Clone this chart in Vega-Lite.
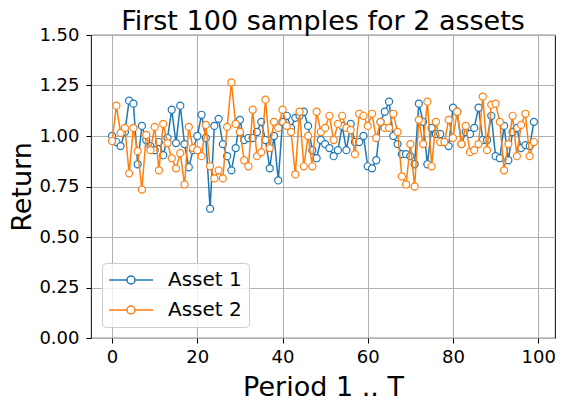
{
  "$schema": "https://vega.github.io/schema/vega-lite/v6.json",
  "width": 464,
  "height": 303,
  "autosize": {"type": "none"},
  "padding": {"left": 91, "top": 35, "right": 7, "bottom": 65},
  "background": "white",
  "title": {
    "text": "First 100 samples for 2 assets",
    "font": "DejaVu Sans",
    "fontSize": 27,
    "fontWeight": "normal",
    "color": "black",
    "offset": -10
  },
  "data": {
    "values": [
      {"t": 0, "Asset 1": 1.00, "Asset 2": 0.975},
      {"t": 1, "Asset 1": 0.97, "Asset 2": 1.15},
      {"t": 2, "Asset 1": 0.95, "Asset 2": 1.015},
      {"t": 3, "Asset 1": 1.02, "Asset 2": 1.04},
      {"t": 4, "Asset 1": 1.175, "Asset 2": 0.815},
      {"t": 5, "Asset 1": 1.16, "Asset 2": 1.04},
      {"t": 6, "Asset 1": 0.86, "Asset 2": 0.925},
      {"t": 7, "Asset 1": 1.05, "Asset 2": 0.735},
      {"t": 8, "Asset 1": 0.98, "Asset 2": 1.005},
      {"t": 9, "Asset 1": 0.95, "Asset 2": 0.93},
      {"t": 10, "Asset 1": 0.93, "Asset 2": 1.045},
      {"t": 11, "Asset 1": 0.97, "Asset 2": 0.83},
      {"t": 12, "Asset 1": 0.905, "Asset 2": 1.06},
      {"t": 13, "Asset 1": 0.99, "Asset 2": 0.965},
      {"t": 14, "Asset 1": 1.13, "Asset 2": 0.89},
      {"t": 15, "Asset 1": 0.965, "Asset 2": 0.84},
      {"t": 16, "Asset 1": 1.15, "Asset 2": 0.915},
      {"t": 17, "Asset 1": 0.96, "Asset 2": 0.76},
      {"t": 18, "Asset 1": 0.845, "Asset 2": 1.045},
      {"t": 19, "Asset 1": 0.93, "Asset 2": 0.94},
      {"t": 20, "Asset 1": 1.00, "Asset 2": 0.93},
      {"t": 21, "Asset 1": 1.105, "Asset 2": 0.9},
      {"t": 22, "Asset 1": 0.99, "Asset 2": 1.055},
      {"t": 23, "Asset 1": 0.64, "Asset 2": 0.85},
      {"t": 24, "Asset 1": 1.05, "Asset 2": 0.79},
      {"t": 25, "Asset 1": 1.085, "Asset 2": 0.83},
      {"t": 26, "Asset 1": 0.96, "Asset 2": 0.79},
      {"t": 27, "Asset 1": 0.90, "Asset 2": 1.045},
      {"t": 28, "Asset 1": 0.83, "Asset 2": 1.265},
      {"t": 29, "Asset 1": 0.94, "Asset 2": 1.06},
      {"t": 30, "Asset 1": 1.08, "Asset 2": 1.02},
      {"t": 31, "Asset 1": 0.98, "Asset 2": 0.88},
      {"t": 32, "Asset 1": 0.99, "Asset 2": 0.85},
      {"t": 33, "Asset 1": 0.99, "Asset 2": 1.13},
      {"t": 34, "Asset 1": 1.02, "Asset 2": 0.90},
      {"t": 35, "Asset 1": 1.07, "Asset 2": 0.92},
      {"t": 36, "Asset 1": 0.98, "Asset 2": 1.18},
      {"t": 37, "Asset 1": 0.84, "Asset 2": 0.94},
      {"t": 38, "Asset 1": 1.00, "Asset 2": 1.07},
      {"t": 39, "Asset 1": 0.78, "Asset 2": 1.04},
      {"t": 40, "Asset 1": 1.07, "Asset 2": 1.13},
      {"t": 41, "Asset 1": 1.10, "Asset 2": 1.05},
      {"t": 42, "Asset 1": 1.04, "Asset 2": 1.02},
      {"t": 43, "Asset 1": 1.09, "Asset 2": 0.81},
      {"t": 44, "Asset 1": 1.10, "Asset 2": 1.12},
      {"t": 45, "Asset 1": 1.12, "Asset 2": 0.85},
      {"t": 46, "Asset 1": 1.05, "Asset 2": 1.00},
      {"t": 47, "Asset 1": 0.93, "Asset 2": 0.85},
      {"t": 48, "Asset 1": 0.89, "Asset 2": 1.12},
      {"t": 49, "Asset 1": 0.98, "Asset 2": 1.02},
      {"t": 50, "Asset 1": 0.96, "Asset 2": 1.04},
      {"t": 51, "Asset 1": 0.94, "Asset 2": 1.10},
      {"t": 52, "Asset 1": 0.90, "Asset 2": 0.98},
      {"t": 53, "Asset 1": 0.93, "Asset 2": 1.06},
      {"t": 54, "Asset 1": 1.05, "Asset 2": 1.10},
      {"t": 55, "Asset 1": 0.93, "Asset 2": 1.04},
      {"t": 56, "Asset 1": 1.06, "Asset 2": 1.03},
      {"t": 57, "Asset 1": 0.97, "Asset 2": 0.91},
      {"t": 58, "Asset 1": 0.97, "Asset 2": 1.11},
      {"t": 59, "Asset 1": 1.00, "Asset 2": 1.10},
      {"t": 60, "Asset 1": 0.85, "Asset 2": 1.05},
      {"t": 61, "Asset 1": 0.84, "Asset 2": 1.11},
      {"t": 62, "Asset 1": 0.88, "Asset 2": 0.99},
      {"t": 63, "Asset 1": 1.07, "Asset 2": 1.07},
      {"t": 64, "Asset 1": 1.12, "Asset 2": 1.04},
      {"t": 65, "Asset 1": 1.17, "Asset 2": 1.04},
      {"t": 66, "Asset 1": 1.00, "Asset 2": 1.11},
      {"t": 67, "Asset 1": 0.96, "Asset 2": 1.02},
      {"t": 68, "Asset 1": 0.91, "Asset 2": 0.80},
      {"t": 69, "Asset 1": 0.91, "Asset 2": 0.76},
      {"t": 70, "Asset 1": 0.90, "Asset 2": 0.96},
      {"t": 71, "Asset 1": 0.86, "Asset 2": 0.75},
      {"t": 72, "Asset 1": 1.16, "Asset 2": 1.08},
      {"t": 73, "Asset 1": 1.07, "Asset 2": 0.96},
      {"t": 74, "Asset 1": 0.86, "Asset 2": 1.17},
      {"t": 75, "Asset 1": 1.04, "Asset 2": 0.85},
      {"t": 76, "Asset 1": 1.01, "Asset 2": 1.07},
      {"t": 77, "Asset 1": 1.01, "Asset 2": 0.97},
      {"t": 78, "Asset 1": 0.97, "Asset 2": 0.97},
      {"t": 79, "Asset 1": 0.95, "Asset 2": 1.08},
      {"t": 80, "Asset 1": 1.14, "Asset 2": 0.99},
      {"t": 81, "Asset 1": 1.12, "Asset 2": 1.12},
      {"t": 82, "Asset 1": 0.96, "Asset 2": 0.96},
      {"t": 83, "Asset 1": 1.02, "Asset 2": 1.05},
      {"t": 84, "Asset 1": 1.01, "Asset 2": 0.92},
      {"t": 85, "Asset 1": 1.04, "Asset 2": 0.93},
      {"t": 86, "Asset 1": 1.14, "Asset 2": 0.96},
      {"t": 87, "Asset 1": 0.98, "Asset 2": 1.195},
      {"t": 88, "Asset 1": 0.98, "Asset 2": 0.93},
      {"t": 89, "Asset 1": 1.10, "Asset 2": 1.155},
      {"t": 90, "Asset 1": 0.90, "Asset 2": 1.16},
      {"t": 91, "Asset 1": 0.89, "Asset 2": 1.07},
      {"t": 92, "Asset 1": 1.05, "Asset 2": 0.83},
      {"t": 93, "Asset 1": 0.88, "Asset 2": 0.96},
      {"t": 94, "Asset 1": 1.02, "Asset 2": 1.10},
      {"t": 95, "Asset 1": 1.04, "Asset 2": 0.90},
      {"t": 96, "Asset 1": 0.94, "Asset 2": 1.055},
      {"t": 97, "Asset 1": 0.955, "Asset 2": 1.11},
      {"t": 98, "Asset 1": 0.95, "Asset 2": 0.90},
      {"t": 99, "Asset 1": 1.07, "Asset 2": 0.97}
    ]
  },
  "transform": [
    {"fold": ["Asset 1", "Asset 2"], "as": ["asset", "ret"]}
  ],
  "encoding": {
    "x": {
      "field": "t",
      "type": "quantitative",
      "scale": {"domain": [-4.95, 103.95], "nice": false, "zero": false},
      "axis": {"values": [0, 20, 40, 60, 80, 100], "title": "Period 1 .. T", "titlePadding": 8, "labelPadding": 5}
    },
    "y": {
      "field": "ret",
      "type": "quantitative",
      "scale": {"domain": [0, 1.5], "nice": false},
      "axis": {
        "values": [0, 0.25, 0.5, 0.75, 1, 1.25, 1.5],
        "format": ".2f",
        "title": "Return",
        "titlePadding": 2,
        "labelPadding": 7
      }
    },
    "color": {
      "field": "asset",
      "type": "nominal",
      "scale": {"domain": ["Asset 1", "Asset 2"], "range": ["#1f77b4", "#ff7f0e"]},
      "legend": {
        "title": null,
        "orient": "bottom-left",
        "offset": 11,
        "padding": 7,
        "rowPadding": 10,
        "symbolType": "M-3,0L-0.545,0M0.545,0L3,0M0.545,0A0.545,0.545,0,1,1,-0.545,0A0.545,0.545,0,1,1,0.545,0Z",
        "symbolSize": 215,
        "symbolStrokeWidth": 1.5,
        "symbolOpacity": 1,
        "symbolOffset": 12,
        "labelOffset": 27,
        "labelFont": "DejaVu Sans",
        "labelFontSize": 20,
        "labelColor": "black",
        "strokeColor": "#cccccc",
        "fillColor": "rgba(255,255,255,0.8)",
        "cornerRadius": 4,
        "encode": {"symbols": {"update": {"fill": {"value": "white"}, "opacity": {"value": 1}}}}
      }
    }
  },
  "layer": [
    {
      "transform": [{"filter": "datum.asset === 'Asset 1'"}],
      "mark": {"type": "line", "strokeWidth": 1.5}
    },
    {
      "transform": [{"filter": "datum.asset === 'Asset 1'"}],
      "mark": {"type": "point", "shape": "circle", "filled": false, "fill": "white", "size": 50, "strokeWidth": 1.2, "opacity": 1}
    },
    {
      "transform": [{"filter": "datum.asset === 'Asset 2'"}],
      "mark": {"type": "line", "strokeWidth": 1.5}
    },
    {
      "transform": [{"filter": "datum.asset === 'Asset 2'"}],
      "mark": {"type": "point", "shape": "circle", "filled": false, "fill": "white", "size": 50, "strokeWidth": 1.2, "opacity": 1}
    }
  ],
  "config": {
    "view": {"stroke": "#222222", "strokeWidth": 1.1},
    "axis": {
      "domain": false,
      "grid": true,
      "gridColor": "#b0b0b0",
      "gridWidth": 1,
      "tickColor": "black",
      "tickSize": 5,
      "tickWidth": 1,
      "labelFont": "DejaVu Sans",
      "labelFontSize": 18,
      "labelColor": "black",
      "titleFont": "DejaVu Sans",
      "titleFontSize": 27,
      "titleFontWeight": "normal",
      "titleColor": "black"
    }
  }
}
